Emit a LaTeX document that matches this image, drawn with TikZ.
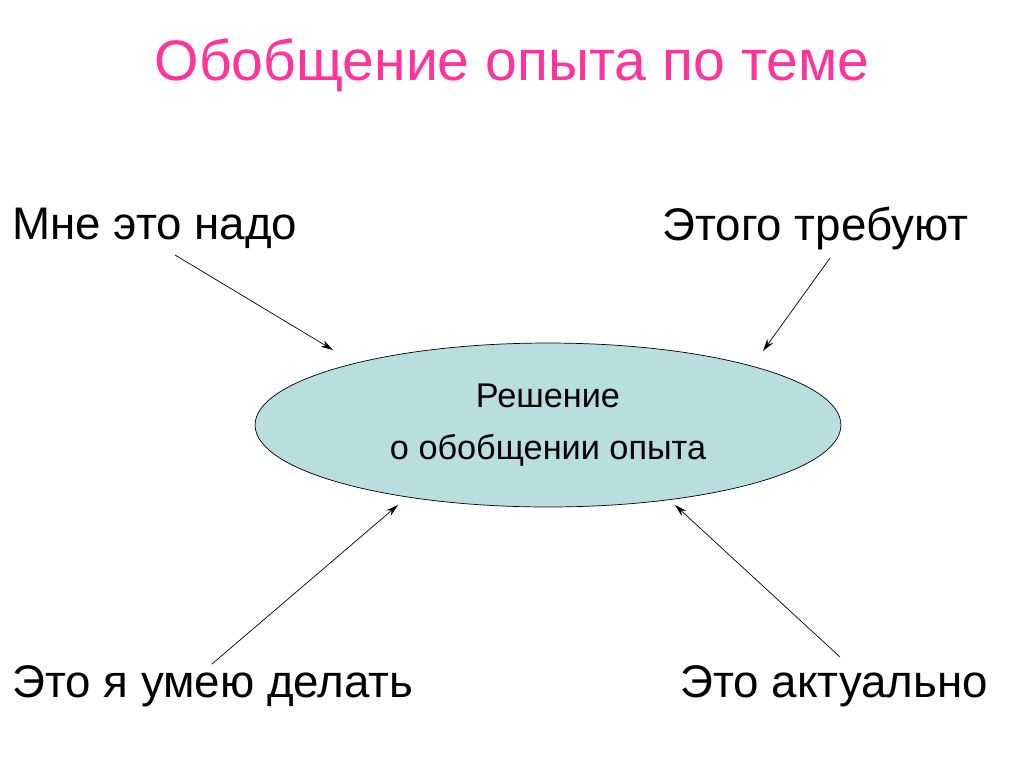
\documentclass[tikz,border=0pt]{standalone}
\usepackage{fontspec}
\setmainfont{Liberation Sans}
\usetikzlibrary{arrows.meta,shapes.geometric}
\definecolor{titlepink}{RGB}{255,51,153}
\definecolor{ovalblue}{RGB}{185,222,224}
\begin{document}
\begin{tikzpicture}[x=0.02cm,y=-0.02cm]

\tikzset{label/.style={font=\fontsize{26}{31}\selectfont,inner sep=0pt},
link/.style={-{Stealth[length=7pt,width=4pt]},thin}}

\useasboundingbox (0,0) rectangle (1024,768);

% Title
\node (title) [font=\fontsize{32.5}{38}\selectfont,text=titlepink] at (512,65) {Обобщение опыта по теме};

% Centre
\node (decision) [ellipse,draw,fill=ovalblue,minimum width=11.72cm,minimum height=3.28cm,align=center,font=\fontsize{19.5}{30}\selectfont] at (548,425) {Решение\\о обобщении опыта};

% Reasons
\node (need) [label,anchor=west] at (12,228) {Мне это надо};
\node (demand) [label,anchor=west] at (662,228) {Этого требуют};
\node (skill) [label,anchor=west] at (12,686) {Это я умею делать};
\node (topical) [label,anchor=west] at (680,686) {Это актуально};

% Edges
\coordinate (a1) at (175,255); \coordinate (a2) at (830,258);
\coordinate (a3) at (212,664); \coordinate (a4) at (840,657);
\coordinate (e1) at (333,350); \coordinate (e2) at (763,351);
\coordinate (e3) at (398,505); \coordinate (e4) at (675,505);
\draw[link] (a1) -- (e1); \draw[link] (a2) -- (e2);
\draw[link] (a3) -- (e3); \draw[link] (a4) -- (e4);

\end{tikzpicture}
\end{document}
